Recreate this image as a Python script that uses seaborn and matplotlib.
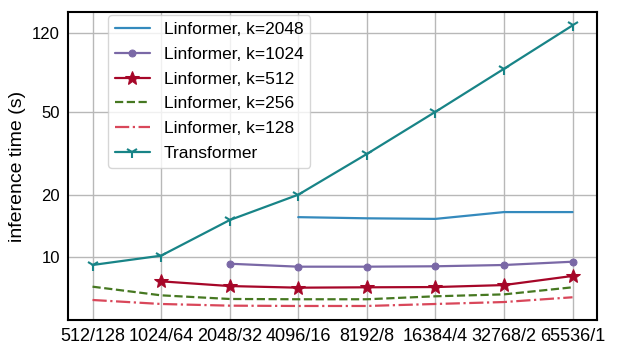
import matplotlib
matplotlib.use("Agg")
import matplotlib.pyplot as plt
import numpy as np
import pandas as pd
import seaborn as sns


SIZES = ["512/128", "1024/64", "2048/32", "4096/16", "8192/8", "16384/4", "32768/2", "65536/1"]

# inference time (s), one value per size starting at the first size each model was run on
K2048 = [15.6, 15.4, 15.3, 16.5, 16.5]
K1024 = [9.31, 9.01, 9.01, 9.05, 9.18, 9.52]
K512 = [7.66, 7.27, 7.14, 7.17, 7.19, 7.35, 8.13]
K256 = [7.22, 6.56, 6.30, 6.28, 6.28, 6.49, 6.63, 7.17]
K128 = [6.23, 5.96, 5.85, 5.83, 5.83, 5.96, 6.09, 6.42]
TRANSFORMER = [9.18, 10.18, 15.1, 20.0, 31.4, 50.1, 80.7, 130.5]

Y_TICKS = [10, 20, 50, 120]

SERIES = [
    ("Linformer, k=2048", K2048, "#348ABD", "-", None, 0),
    ("Linformer, k=1024", K1024, "#7A68A6", "-", "o", 5),
    ("Linformer, k=512", K512, "#A60628", "-", "*", 10),
    ("Linformer, k=256", K256, "#467821", "--", None, 0),
    ("Linformer, k=128", K128, "#D9475A", "-.", None, 0),
    ("Transformer", TRANSFORMER, "#188487", "-", "1", 9),
]


def build_frame() -> pd.DataFrame:
    rows = []
    for name, vals, *_ in SERIES:
        start = len(SIZES) - len(vals)
        for i, v in enumerate(vals):
            rows.append({"model": name, "pos": start + i, "time": v})
    return pd.DataFrame(rows)


sns.set_style("white")
plt.rcParams["font.family"] = ["Liberation Sans", "DejaVu Sans"]
plt.rcParams["text.color"] = "black"
plt.rcParams["axes.labelcolor"] = "black"
plt.rcParams["xtick.color"] = "black"
plt.rcParams["ytick.color"] = "black"

df = build_frame()

fig, ax = plt.subplots(figsize=(6.37, 3.54), dpi=100)
fig.subplots_adjust(left=0.107, right=0.937, bottom=0.096, top=0.966)

for name, vals, color, ls, marker, ms in SERIES:
    sub = df[df["model"] == name]
    kws = dict(color=color, linestyle=ls, linewidth=1.6, label=name, ax=ax)
    if marker:
        kws.update(marker=marker, markersize=ms, markeredgecolor=color,
                   markeredgewidth=1.5 if marker == "1" else 0.75)
    sns.lineplot(data=sub, x="pos", y="time", **kws)

ax.set_yscale("log")
ax.set_yticks(Y_TICKS)
ax.set_yticklabels([str(t) for t in Y_TICKS])
ax.yaxis.set_minor_locator(matplotlib.ticker.NullLocator())
ax.set_xticks(range(len(SIZES)))
ax.set_xticklabels(SIZES)
ax.set_xlim(-0.355, len(SIZES) - 1 + 0.355)
ax.set_ylim(4.99, 151.4)

ax.set_xlabel("")
ax.set_ylabel("inference time (s)", fontsize=14)
ax.tick_params(axis="x", direction="in", length=7, width=1, labelsize=13, pad=6)
ax.tick_params(axis="y", direction="in", length=7, width=1, labelsize=12, pad=6)
ax.grid(True, color="#b8b8b8", linewidth=1)
for s in ax.spines.values():
    s.set_color("black")
    s.set_linewidth(1.5)

ax.legend(loc="upper left", bbox_to_anchor=(0.0756, 0.99), borderaxespad=0,
          fontsize=12.5, frameon=True, fancybox=True, framealpha=0.8,
          edgecolor="#cccccc", labelspacing=0.55)

fig.savefig("out.png", dpi=100)
